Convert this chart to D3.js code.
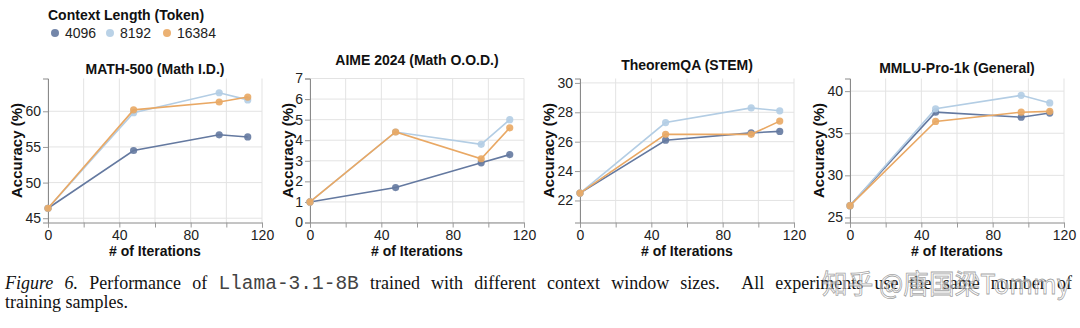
<!DOCTYPE html>
<html><head><meta charset="utf-8">
<script src="https://cdn.jsdelivr.net/npm/d3@7"></script>
<style>
html,body{margin:0;padding:0;background:#fff;}
svg{display:block;}
</style></head>
<body>
<svg id="chart" width="1080" height="328"></svg>
<script>
// ---------------- data ----------------
const iterations = [0, 48, 96, 112];
const contextLengths = ["4096", "8192", "16384"];
const seriesColors = ["#6479a0", "#b3cde4", "#e9a864"];
const benchmarks = ["MATH-500 (Math I.D.)", "AIME 2024 (Math O.O.D.)", "TheoremQA (STEM)", "MMLU-Pro-1k (General)"];

const math500_4096  = [46.4, 54.5, 56.7, 56.4];
const math500_8192  = [46.4, 59.8, 62.6, 61.6];
const math500_16384 = [46.4, 60.2, 61.3, 62.0];

const aime_4096  = [1.0, 1.7, 2.9, 3.3];
const aime_8192  = [1.0, 4.4, 3.8, 5.0];
const aime_16384 = [1.0, 4.4, 3.1, 4.6];

const theoremqa_4096  = [22.5, 26.1, 26.6, 26.7];
const theoremqa_8192  = [22.5, 27.3, 28.3, 28.1];
const theoremqa_16384 = [22.5, 26.5, 26.5, 27.4];

const mmlupro_4096  = [26.4, 37.5, 36.9, 37.4];
const mmlupro_8192  = [26.4, 37.9, 39.5, 38.6];
const mmlupro_16384 = [26.4, 36.4, 37.5, 37.6];

const xTickValues = [0, 20, 40, 60, 80, 100, 120];
const xTickLabels = ["0", "", "40", "", "80", "", "120"];
const yTickSteps = [5, 1, 2, 5];

const captionItalic = "Figure 6.";
const captionA = " Performance of ";
const captionMono = "Llama-3.1-8B";
const captionB = " trained with different context window sizes.  All experiments use the same number of";
const captionLine2 = "training samples.";
const watermark = "知乎 @唐国梁Tommy";

const panelData = [
  [math500_4096, math500_8192, math500_16384],
  [aime_4096, aime_8192, aime_16384],
  [theoremqa_4096, theoremqa_8192, theoremqa_16384],
  [mmlupro_4096, mmlupro_8192, mmlupro_16384]
];

// ---------------- layout ----------------
const svg = d3.select("#chart");
svg.append("rect").attr("width", 1080).attr("height", 328).attr("fill", "#fff");
const FONT = "'Liberation Sans', Arial, Helvetica, sans-serif";
const plotLefts = [48, 310, 580, 850];
const plotW = 214, plotTop = 78.5, plotBottom = 222.5;
const titleY = [74, 65, 70, 73];
const ytitleOffset = [31, 22, 31, 31];

// legend
const legend = svg.append("g").attr("font-family", FONT);
legend.append("text").attr("x", 48).attr("y", 20).attr("font-size", 14)
  .attr("font-weight", "bold").attr("fill", "#111").text("Context Length (Token)");
const legX = [55, 110, 167];
contextLengths.forEach((c, i) => {
  legend.append("circle").attr("cx", legX[i]).attr("cy", 33).attr("r", 4)
    .attr("fill", seriesColors[i]).attr("opacity", 0.9);
  legend.append("text").attr("x", legX[i] + 10).attr("y", 38).attr("font-size", 14)
    .attr("fill", "#222").text(c);
});

// panels
panelData.forEach((series, p) => {
  const left = plotLefts[p];
  const g = svg.append("g").attr("font-family", FONT);
  const all = series.flat();
  const yMin = Math.max(0, d3.min(all) - 2), yMax = d3.max(all) + 2;
  const x = d3.scaleLinear().domain([0, 120]).range([left, left + plotW]);
  const y = d3.scaleLinear().domain([yMin, yMax]).range([plotBottom, plotTop]);
  const step = yTickSteps[p];
  const yTicks = d3.range(Math.ceil(yMin / step) * step, yMax + 1e-9, step);

  // grid
  g.append("g").selectAll("line").data(xTickValues).join("line")
    .attr("x1", d => x(d)).attr("x2", d => x(d)).attr("y1", plotTop).attr("y2", plotBottom)
    .attr("stroke", "#e3e3e3").attr("stroke-width", 1);
  g.append("g").selectAll("line").data(yTicks).join("line")
    .attr("x1", left).attr("x2", left + plotW).attr("y1", d => y(d)).attr("y2", d => y(d))
    .attr("stroke", "#e3e3e3").attr("stroke-width", 1);

  // axes
  const xAxis = d3.axisBottom(x).tickValues(xTickValues)
    .tickFormat((d, i) => xTickLabels[i]).tickSize(5).tickPadding(3);
  const gx = g.append("g").attr("transform", `translate(0,${plotBottom})`).call(xAxis);
  const yAxis = d3.axisLeft(y).tickValues(yTicks).tickFormat(d3.format("d")).tickSize(5).tickPadding(2);
  const gy = g.append("g").attr("transform", `translate(${left},0)`).call(yAxis);
  [gx, gy].forEach(a => {
    a.select(".domain").attr("stroke", "#8a8a8a");
    a.selectAll(".tick line").attr("stroke", "#9a9a9a");
    a.selectAll("text").attr("font-size", 14).attr("fill", "#222").attr("font-family", FONT);
  });

  // axis titles
  g.append("text").attr("x", left + plotW / 2).attr("y", 256).attr("text-anchor", "middle")
    .attr("font-size", 14).attr("font-weight", "bold").attr("fill", "#111").text("# of Iterations");
  g.append("text").attr("transform", `translate(${left - ytitleOffset[p] + 5},${(plotTop + plotBottom) / 2}) rotate(-90)`)
    .attr("text-anchor", "middle").attr("font-size", 15).attr("font-weight", "bold")
    .attr("fill", "#111").text("Accuracy (%)");

  // title
  g.append("text").attr("x", left + plotW / 2).attr("y", titleY[p]).attr("text-anchor", "middle")
    .attr("font-size", 14).attr("font-weight", "bold").attr("fill", "#111").text(benchmarks[p]);

  // lines + points
  const line = d3.line().x((d, i) => x(iterations[i])).y(d => y(d));
  series.forEach((vals, s) => {
    g.append("path").datum(vals).attr("d", line).attr("fill", "none")
      .attr("stroke", seriesColors[s]).attr("stroke-width", 1.6);
    g.append("g").selectAll("circle").data(vals).join("circle")
      .attr("cx", (d, i) => x(iterations[i])).attr("cy", d => y(d)).attr("r", 3.6)
      .attr("fill", seriesColors[s]).attr("opacity", 0.9);
  });
});

// caption (justified via word spacing)
const SERIF = "'Liberation Serif', 'Times New Roman', serif";
const cap = svg.append("text").attr("x", 5).attr("y", 289).attr("font-family", SERIF)
  .attr("font-size", 18).attr("fill", "#111").attr("xml:space", "preserve").style("white-space", "pre");
cap.append("tspan").attr("font-style", "italic").text(captionItalic);
cap.append("tspan").text(captionA);
cap.append("tspan").attr("font-family", "'Liberation Mono', 'Courier New', monospace")
  .attr("font-size", 19.5).attr("fill", "#444").text(captionMono);
cap.append("tspan").text(captionB);
const natural = cap.node().getComputedTextLength();
const nSpaces = (captionItalic + captionA + captionMono + captionB).split(" ").length - 1;
const extra = (1067 - natural) / nSpaces;
if (extra > 0) cap.style("word-spacing", extra + "px");
else cap.attr("textLength", 1067).attr("lengthAdjust", "spacingAndGlyphs");

svg.append("text").attr("x", 5).attr("y", 308).attr("font-family", SERIF)
  .attr("font-size", 18).attr("fill", "#111").text(captionLine2);

// watermark
svg.append("text").attr("x", 822).attr("y", 294).attr("font-family", "'Noto Sans CJK SC', sans-serif")
  .attr("font-size", 27).attr("fill", "#fff").attr("fill-opacity", 0.55)
  .attr("stroke", "#8c8c8c").attr("stroke-width", 0.8).attr("stroke-opacity", 0.8)
  .attr("textLength", 248).attr("lengthAdjust", "spacingAndGlyphs").text(watermark);
</script>
</body></html>
